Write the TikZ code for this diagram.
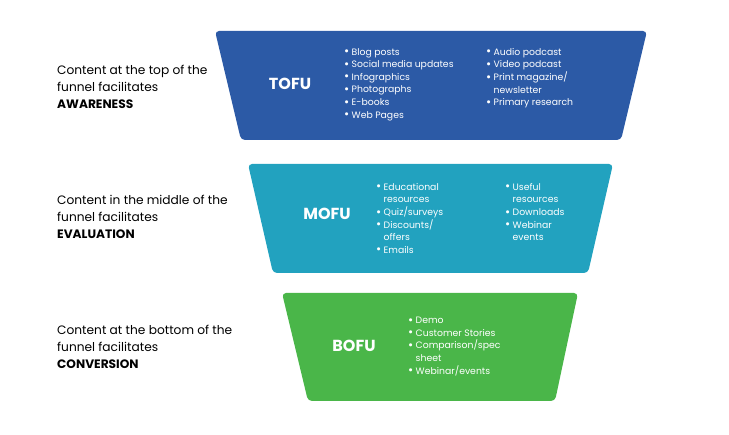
\documentclass[tikz,border=0pt]{standalone}
\usepackage{fontspec}
\setmainfont{Poppins}
\usepackage{xcolor}
\usepackage{tikz}
\usetikzlibrary{positioning}

\definecolor{tofublue}{HTML}{2C5AA6}
\definecolor{mofuteal}{HTML}{22A2BF}
\definecolor{bofugreen}{HTML}{4AB649}

\newcommand{\itm}[1]{\makebox[7.5pt][l]{\raisebox{-0.6pt}{\fontsize{12.5}{12.5}\selectfont\textbullet}}#1}
\newcommand{\cnt}[1]{\hspace*{7.5pt}#1}

\tikzset{
  stage/.style={rounded corners=4pt, draw=none},
  stagename/.style={text=white, font=\fontsize{16}{18}\selectfont\bfseries},
  itemlist/.style={text=white, align=left, anchor=north west, inner sep=0pt,
    font=\fontsize{9.3}{12.6}\selectfont},
  caption/.style={align=left, anchor=north west, inner sep=0pt,
    font=\fontsize{12.2}{17}\selectfont}
}

\begin{document}
\begin{tikzpicture}[x=1pt,y=-1pt]
\useasboundingbox (0,0) rectangle (729,435);
% funnel stages
\fill [stage, tofublue] (215,31) -- (647,31) -- (621,140) -- (241,140) -- cycle;
\fill [stage, mofuteal] (248,164) -- (613,164) -- (588,273) -- (273,273) -- cycle;
\fill [stage, bofugreen] (282,293) -- (578,293) -- (555,401) -- (308,401) -- cycle;
% stage names
\node [stagename] (tofu) at (290,84) {TOFU};
\node [stagename] (mofu) at (327,214) {MOFU};
\node [stagename] (bofu) at (354,346) {BOFU};
% contents
\node [itemlist] (tofua) at (344,48) {\itm{Blog posts}\\ \itm{Social media updates}\\
  \itm{Infographics}\\ \itm{Photographs}\\ \itm{E-books}\\ \itm{Web Pages}};
\node [itemlist] (tofub) at (486,48) {\itm{Audio podcast}\\ \itm{Video podcast}\\
  \itm{Print magazine/}\\ \cnt{newsletter}\\ \itm{Primary research}};
\node [itemlist] (mofua) at (376,183) {\itm{Educational}\\ \cnt{resources}\\
  \itm{Quiz/surveys}\\ \itm{Discounts/}\\ \cnt{offers}\\ \itm{Emails}};
\node [itemlist] (mofub) at (505,183) {\itm{Useful}\\ \cnt{resources}\\
  \itm{Downloads}\\ \itm{Webinar}\\ \cnt{events}};
\node [itemlist] (bofua) at (408,317) {\itm{Demo}\\ \itm{Customer Stories}\\
  \itm{Comparison/spec}\\ \cnt{sheet}\\ \itm{Webinar/events}};
% captions
\node [caption] (awareness) at (57,65) {Content at the top of the\\ funnel facilitates\\ \textbf{AWARENESS}};
\node [caption] (evaluation) at (57,195) {Content in the middle of the\\ funnel facilitates\\ \textbf{EVALUATION}};
\node [caption] (conversion) at (57,325) {Content at the bottom of the\\ funnel facilitates\\ \textbf{CONVERSION}};
\end{tikzpicture}
\end{document}
